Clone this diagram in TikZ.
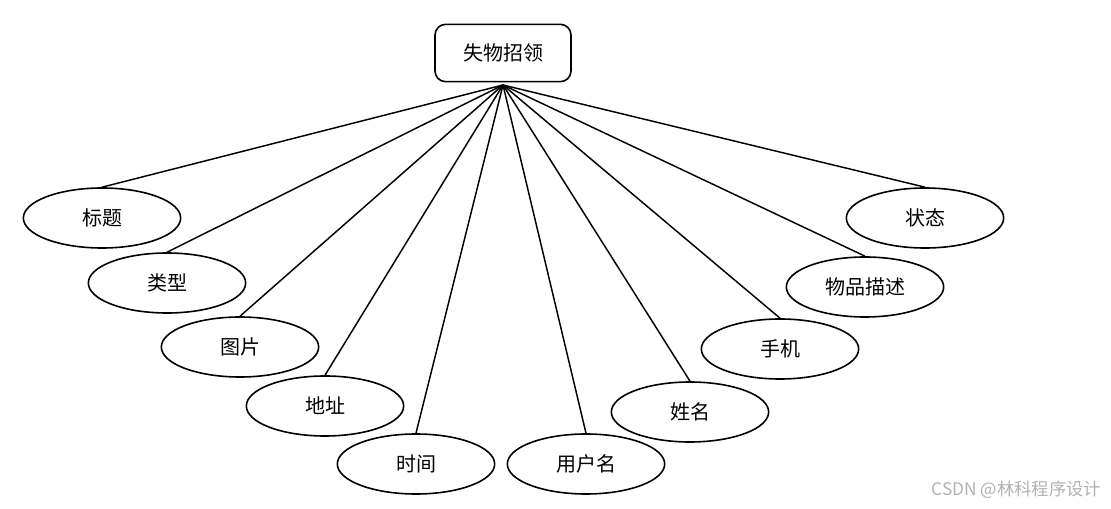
\documentclass[tikz,border=0pt]{standalone}
\usepackage{fontspec}
\newfontfamily\cjk{Noto Sans CJK SC}
\usetikzlibrary{shapes.geometric}
\begin{document}
\begin{tikzpicture}[x=0.75pt,y=-0.75pt,
  ell/.style={draw,line width=1.2pt,ellipse,minimum width=118pt,minimum height=45pt,inner sep=0pt,font=\cjk\fontsize{15}{18}\selectfont},
  lnk/.style={line width=1.1pt}]
\useasboundingbox (0,0) rectangle (1111,509);
\node[draw,line width=1.2pt,rounded corners=8pt,minimum width=102pt,minimum height=43pt,font=\cjk\fontsize{15}{18}\selectfont] (top) at (503,53) {失物招领};
\coordinate (hub) at (503,85);
\node[ell] (a) at (102,218) {标题};
\node[ell] (b) at (167,283) {类型};
\node[ell] (c) at (240,347) {图片};
\node[ell] (d) at (325,406) {地址};
\node[ell] (e) at (416,464) {时间};
\node[ell] (f) at (586,464) {用户名};
\node[ell] (g) at (690,412) {姓名};
\node[ell] (h) at (780,349) {手机};
\node[ell] (i) at (865,287) {物品描述};
\node[ell] (j) at (925,218) {状态};
\foreach \n in {a,b,c,d,e,f,g,h,i,j} \draw[lnk] (hub) -- (\n.north);
\node[text=gray!60,font=\cjk\fontsize{13}{15}\selectfont,anchor=east] (wm) at (1106,490) {CSDN @林科程序设计};
\end{tikzpicture}
\end{document}
